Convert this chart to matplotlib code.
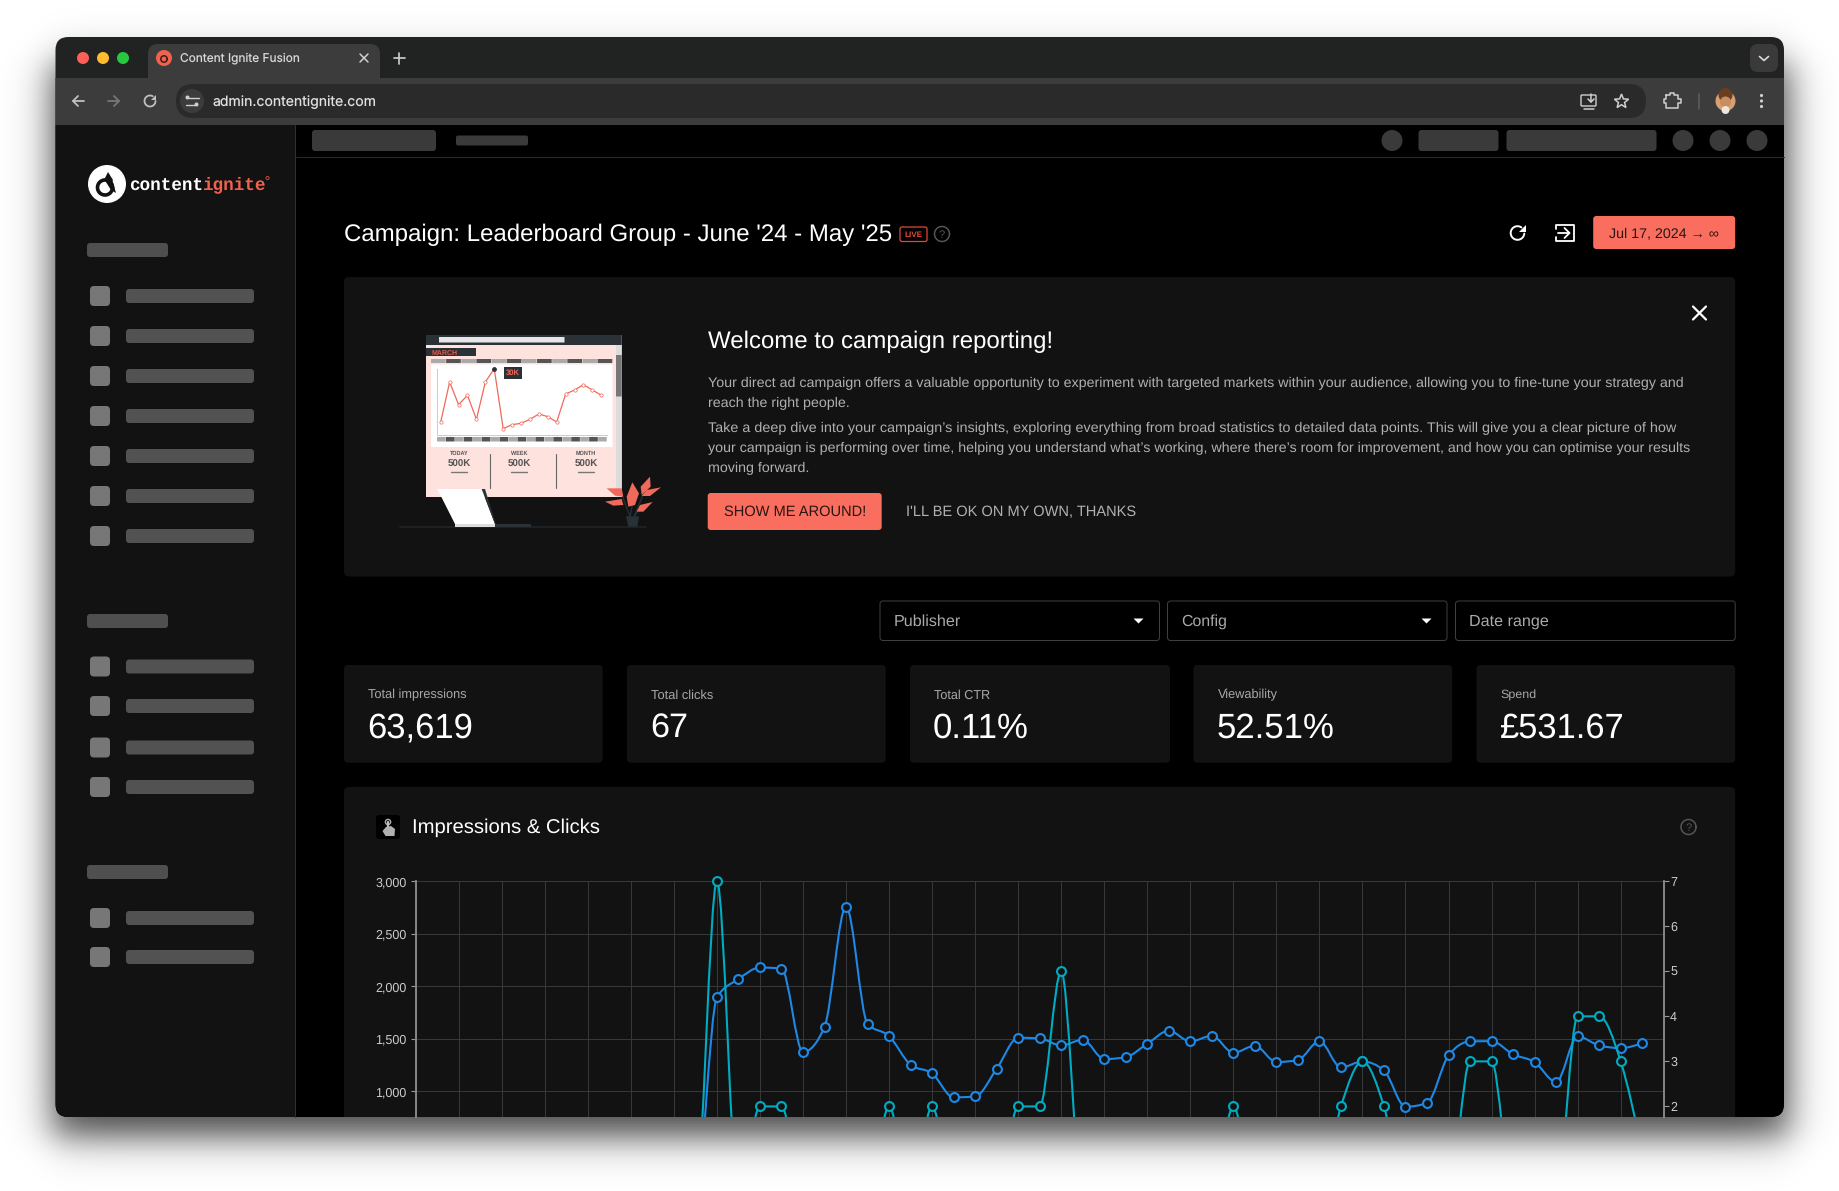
import numpy as np
import matplotlib
matplotlib.use('Agg')
import matplotlib.pyplot as plt
from matplotlib.patches import FancyBboxPatch, Circle, Polygon, Rectangle, PathPatch
from matplotlib.path import Path

plt.rcParams['text.hinting'] = 'no_hinting'

W, H = 1840, 1191
FONT = ['Liberation Sans', 'DejaVu Sans']
CORAL = '#f96e5f'
CARD = '#121212'

## DATA ########################################################################
# daily series, nothing is visible before index 14 (window cuts the chart off)
impressions = [0] * 14 + [1894, 2068, 2179, 2169, 1374, 1615, 2759, 1643, 1526, 1253,
                          1171, 943, 952, 1215, 1510, 1504, 1437, 1491, 1307, 1326,
                          1453, 1577, 1475, 1529, 1367, 1434, 1279, 1298, 1478, 1228,
                          1285, 1199, 854, 889, 1342, 1475, 1478, 1352, 1279, 1089,
                          1523, 1437, 1412, 1459]
clicks = [0] * 14 + [7, 0, 2, 2, 0, 0, 0, 0, 2, 0,
                     2, 0, 0, 0, 2, 2, 5, 0, 0, 0,
                     0, 0, 0, 0, 2, 0, 0, 0, 0, 2,
                     3, 2, 0, 0, 0, 3, 3, 0, 0, 0,
                     4, 4, 3, 1]
left_ticks = [1000, 1500, 2000, 2500, 3000]
right_ticks = [2, 3, 4, 5, 6, 7]

kpi_labels = ['Total impressions', 'Total clicks', 'Total CTR', 'Viewability', 'Spend']
kpi_values = ['63,619', '67', '0.11%', '52.51%', '£531.67']

# the little chart inside the illustration (k)
mini_values = [6, 24, 13.8, 18, 7.2, 24, 30, 3, 4.8, 5.4, 7.2, 9.6, 8.4, 6, 18.6, 20.4, 22.8, 20.4, 18]

welcome_lines = [
    ('Your direct ad campaign offers a valuable opportunity to experiment with targeted markets within your audience, allowing you to fine-tune your strategy and', 382, 979.5),
    ('reach the right people.', 402, 142),
    ('Take a deep dive into your campaign\u2019s insights, exploring everything from broad statistics to detailed data points. This will give you a clear picture of how', 427, 965.5),
    ('your campaign is performing over time, helping you understand what\u2019s working, where there\u2019s room for improvement, and how you can optimise your results', 447, 985.5),
    ('moving forward.', 467, 101),
]

## HELPERS #####################################################################
fig = plt.figure(figsize=(W / 100, H / 100), dpi=100, facecolor='white')
base = fig.add_axes([0, 0, 1, 1])
base.set_xlim(0, W)
base.set_ylim(H, 0)
base.axis('off')
renderer = fig.canvas.get_renderer()


def rrect(x0, y0, x1, y1, r=3, color='#3a3a3a', ec='none', lw=0, clip=None, z=2):
    p = FancyBboxPatch((x0 + r, y0 + r), x1 - x0 - 2 * r, y1 - y0 - 2 * r,
                       boxstyle=f'round,pad={r},rounding_size={r}',
                       fc=color, ec=ec, lw=lw, zorder=z)
    base.add_patch(p)
    if clip is not None:
        p.set_clip_path(clip)
    return p


def label(x, y, s, width=None, size=10, color='white', ha='left', weight='normal', family=FONT):
    t = base.text(x, y, s, fontsize=size, color=color, ha=ha, va='baseline',
                  weight=weight, family=family, zorder=6)
    if width:
        t.set_fontsize(size * width / t.get_window_extent(renderer).width)
    # y is the middle of the capitals, so all labels share a baseline rule
    t.set_y(y + 0.36 * t.get_fontsize() * 100 / 72)
    return t


def line(xs, ys, color='white', lw=1.2, z=5):
    base.plot(xs, ys, color=color, lw=lw, solid_capstyle='round', zorder=z)


def ring(cx, cy, r, a0=0, a1=360, color='white', lw=1.2):
    a = np.radians(np.linspace(a0, a1, 60))
    line(cx + r * np.cos(a), cy + r * np.sin(a), color, lw)


def poly(pts, color, z=4):
    base.add_patch(Polygon(pts, closed=True, fc=color, ec='none', zorder=z))


def dot(cx, cy, r, color, z=4):
    base.add_patch(Circle((cx, cy), r, fc=color, ec='none', zorder=z))


def help_icon(cx, cy):
    ring(cx, cy, 7.5, color='#555555', lw=1.1)
    label(cx, cy, '?', size=8, color='#555555', ha='center')


def monotone_path(x, y):
    # monotone cubic through the points, same curve the web chart library uses
    x = np.asarray(x, float)
    y = np.asarray(y, float)
    h = np.diff(x)
    s = np.diff(y) / h
    m = np.zeros(len(x))
    p = (s[:-1] * h[1:] + s[1:] * h[:-1]) / (h[:-1] + h[1:])
    m[1:-1] = (np.sign(s[:-1]) + np.sign(s[1:])) * np.minimum(np.minimum(np.abs(s[:-1]), np.abs(s[1:])), 0.5 * np.abs(p))
    m[0] = (3 * s[0] - m[1]) / 2
    m[-1] = (3 * s[-1] - m[-2]) / 2
    verts = [(x[0], y[0])]
    codes = [Path.MOVETO]
    for i in range(len(h)):
        verts += [(x[i] + h[i] / 3, y[i] + m[i] * h[i] / 3),
                  (x[i + 1] - h[i] / 3, y[i + 1] - m[i + 1] * h[i] / 3),
                  (x[i + 1], y[i + 1])]
        codes += [Path.CURVE4] * 3
    return Path(verts, codes)


def px_axes(x0, y0, x1, y1, **kw):
    return fig.add_axes([x0 / W, 1 - y1 / H, (x1 - x0) / W, (y1 - y0) / H], **kw)


## PAGE + WINDOW ###############################################################
xx, yy = np.meshgrid(np.arange(W), np.arange(H))
step = lambda v: 1 / (1 + np.exp(-v / 11.0))
shadow = 0.72 * step(xx - 52) * step(1788 - xx) * step(yy - 62) * step(1136 - yy)
base.imshow(shadow, extent=(0, W, H, 0), cmap='gray_r', vmin=0, vmax=1, zorder=0, aspect='auto')
base.set_xlim(0, W)
base.set_ylim(H, 0)

window = rrect(55.5, 37, 1784, 1117, r=13, color='#212322', z=1)
rrect(55.5, 78, 1784, 125, r=0, color='#3c3c3c', clip=window)
rrect(55.5, 125, 1784, 1117, r=0, color='black', clip=window)
rrect(55.5, 125, 295, 1117, r=0, color=CARD, clip=window)
line([295.5, 295.5], [125, 1117], '#303030', 0.72, z=3)
line([296, 1784], [156.5, 156.5], '#2a2a2a', 0.72, z=3)

# tab strip
for cx, c in zip([83, 103, 123], ['#ff5f57', '#febc2e', '#28c840']):
    dot(cx, 58, 6, c)
rrect(148, 44, 380, 90, r=10, color='#3c3c3c')
rrect(55.5, 78, 1784, 125, r=0, color='#3c3c3c', clip=window)
dot(164, 58, 8, '#f0614e')
ring(164, 59, 3.2, color='#3c1d18', lw=1.1)
label(180, 57.5, 'Content Ignite Fusion', width=120, color='#d8d8d8', family=['Inter', 'DejaVu Sans'])
line([360, 368], [54, 62], '#d0d0d0', 1.1)
line([360, 368], [62, 54], '#d0d0d0', 1.1)
line([394, 405], [58, 58], '#d0d0d0', 1.2)
line([399.5, 399.5], [52.5, 63.5], '#d0d0d0', 1.2)
rrect(1750, 44, 1778, 72, r=8, color='#3a3a3a')
line([1759.5, 1764, 1768.5], [56.5, 60.5, 56.5], '#d8d8d8', 1.2)

# toolbar
rrect(176, 84, 1646, 118, r=17, color='#2a2a2a', z=3)
line([73, 84], [101, 101], '#c0c0c0', 1.3)
line([78, 73, 78], [96, 101, 106], '#c0c0c0', 1.3)
line([108, 119], [101, 101], '#777777', 1.3)
line([114, 119, 114], [96, 101, 106], '#777777', 1.3)
ring(150, 101, 5.5, 0, 300, '#c0c0c0', 1.3)
poly([(156.5, 94.5), (156.5, 100), (151, 100)], '#c0c0c0', z=5)
dot(192, 101, 12, '#3c3c3c')
line([189, 199], [97.5, 97.5], '#d0d0d0', 1)
line([186, 195], [104.5, 104.5], '#d0d0d0', 1)
dot(187.5, 97.5, 2, '#d0d0d0', z=5)
dot(196.5, 104.5, 2, '#d0d0d0', z=5)
label(213, 100.5, 'admin.contentignite.com', width=164, color='#e0e0e0', family=['Inter', 'DejaVu Sans'])
rrect(1581, 95, 1596, 106, r=1, color='none', ec='#d0d0d0', lw=1, z=5)
line([1584, 1594], [109, 109], '#d0d0d0', 1.1)
line([1591, 1591], [94, 102], '#d0d0d0', 1.1)
line([1588, 1591, 1594], [99, 102, 99], '#d0d0d0', 1.1)
ang = np.radians(np.arange(0, 360, 36) - 90)
rad = np.where(np.arange(10) % 2 == 0, 7.5, 3.2)
base.add_patch(Polygon(np.c_[1621.5 + rad * np.cos(ang), 101.5 + rad * np.sin(ang)], fc='none', ec='#d0d0d0', lw=1.1, zorder=5))
# extension puzzle piece
line([1666, 1670, 1670, 1674, 1674, 1678, 1678, 1681, 1681, 1678, 1678, 1666, 1666, 1664, 1664, 1666, 1666],
     [95, 95, 92.5, 92.5, 95, 95, 99, 99, 103, 103, 108, 108, 103, 103, 99, 99, 95], '#d0d0d0', 1.1)
line([1699, 1699], [94, 109], '#5c5c5c', 1.2)
dot(1725.5, 101, 10, '#d8a070')
dot(1725.5, 95, 7, '#6b3d20', z=5)
dot(1725.5, 102, 5.5, '#c98d62', z=5)
dot(1725.5, 110, 4, '#f0e6da', z=5)
for yy_dot in [95.5, 101, 106.5]:
    dot(1761.5, yy_dot, 1.6, '#d0d0d0')

# top bar skeleton
SK = '#3a3a3a'
rrect(312, 130, 436, 151, r=3, color=SK)
rrect(456, 135.5, 528, 145.5, r=2, color=SK)
dot(1392, 140.5, 10.5, SK)
rrect(1418.5, 130, 1498.5, 151, r=3, color=SK)
rrect(1506.5, 130, 1656.5, 151, r=3, color=SK)
for cx in [1683, 1720, 1757]:
    dot(cx, 140.5, 10.5, SK)

# sidebar
dot(107, 184, 19, 'white')
ring(105, 187.5, 7.5, color='#121212', lw=2.6)
poly([(108, 172), (113, 180), (109.5, 184), (104, 180)], '#121212')
poly([(104, 179), (112, 179), (116, 193), (111, 190)], '#121212')
label(129, 184, 'content', size=12.7, weight='bold', family=['Liberation Mono', 'DejaVu Sans Mono'])
label(203, 183, 'ignite', size=12.7, weight='bold', color='#f0614e', family=['Liberation Mono', 'DejaVu Sans Mono'])
ring(267.5, 178, 1.6, color='#f0614e', lw=0.5)

for y_head, rows in [(250, [296, 336, 376, 416, 456, 496, 536]),
                     (621, [666.5, 706, 747.5, 787]),
                     (872, [918, 957])]:
    rrect(87, y_head - 7, 168, y_head + 7, r=3, color='#4f4f4f')
    for y in rows:
        rrect(90, y - 10, 110, y + 10, r=4, color='#777777')
        rrect(126, y - 7, 254, y + 7, r=3.5, color='#525252')

## HEADER ######################################################################
label(344.5, 232.5, "Campaign: Leaderboard Group - June '24 - May '25", width=550, size=17)
rrect(900, 227, 927, 241.5, r=2, color='none', ec='#e0483c', lw=0.9, z=5)
label(913.5, 234.3, 'LIVE', width=18, size=7, color='#e0483c', ha='center', weight='bold')
help_icon(942, 234)
ring(1517.5, 233, 6.8, 5, 305, 'white', 1.4)
poly([(1526.2, 225), (1526.2, 232), (1519.2, 232)], 'white', z=5)
line([1556.5, 1556.5, 1574, 1574, 1556.5, 1556.5], [229, 225, 225, 241, 241, 237], 'white', 1.3)
line([1558, 1569], [233, 233], 'white', 1.3)
line([1564.5, 1569.5, 1564.5], [228, 233, 238], 'white', 1.3)
rrect(1593.2, 216, 1735.2, 249, r=3, color=CORAL)
label(1664.2, 232, 'Jul 17, 2024 \u2192 \u221e', width=110, color='#2a1512', ha='center')

## WELCOME PANEL ###############################################################
rrect(344, 277, 1735.2, 576.5, r=5, color=CARD)
line([1693, 1706], [306.5, 319.5], 'white', 1.6)
line([1693, 1706], [319.5, 306.5], 'white', 1.6)
label(708, 339.5, 'Welcome to campaign reporting!', width=346, size=18)
for txt, y, w in welcome_lines:
    label(708, y, txt, width=w, size=10, color='#b0b0b0')
rrect(707.7, 493, 881.7, 530, r=3, color=CORAL)
label(795, 511, 'SHOW ME AROUND!', width=142, color='#2a1512', ha='center')
label(906, 511, "I'LL BE OK ON MY OWN, THANKS", width=230, color='#b0b0b0')

# illustration
z = lambda *p: [(380 + a / 3, 310 + b / 3) for a, b in p]
rrect(426, 335, 621.7, 497, r=0, color='#fde2de')
rrect(426, 335, 621.7, 345, r=0, color='#2a3238')
rrect(439, 337, 564.5, 342.5, r=0, color='#e6e6e6')
rrect(616, 345, 621.7, 497, r=0, color='#dcdcdc', z=3)
rrect(616, 355, 621.7, 396.5, r=0, color='#777777', z=4)
rrect(426, 348, 476, 356, r=0, color='#2a3238', z=3)
label(432, 352, 'MARCH', size=5, color='#e8584a', weight='bold')
rrect(431, 364.5, 612.5, 447, r=0, color='white', z=3)
for i in range(12):
    rrect(431 + i * 15.15, 359, 431 + (i + 1) * 15.15 - 0.5, 363, r=0, color='#aaaaaa' if i % 2 == 0 else '#555555', z=3)
for i in range(19):
    rrect(437 + i * 8.95, 437, 437 + (i + 1) * 8.95 - 0.3, 441.5, r=0, color='#aaaaaa' if i % 2 == 0 else '#555555', z=4)
for cx, word in [(459, 'TODAY'), (519.5, 'WEEK'), (586, 'MONTH')]:
    label(cx, 453, word, size=4, color='#555555', ha='center', weight='bold')
    label(cx, 463.5, '500K', size=7, color='#555555', ha='center', weight='bold')
    line([cx - 8, cx + 8], [472, 472], '#777777', 1)
line([490.5, 490.5], [454, 488], '#666666', 0.8)
line([556.5, 556.5], [454, 488], '#666666', 0.8)
poly(z((172, 537), (305, 537), (345, 642), (225, 642)), 'white', z=5)
poly(z((305, 537), (315, 537), (350, 650), (345, 650), (345, 642)), '#2a3238', z=5)
poly(z((225, 642), (345, 642), (345, 651), (225, 651)), '#dddddd', z=5)
poly(z((345, 642), (453, 642), (453, 651), (345, 651)), '#2a3238', z=5)
line([400.5, 646.5], [527, 527], '#1f2326', 1.2, z=3)
poly(z((738, 619), (777, 619), (772, 650), (745, 650)), '#263238', z=5)
for (x0, y0), (x1, y1) in [(z((750, 620))[0], z((728, 560))[0]), (z((750, 620))[0], z((760, 570))[0]),
                           (z((762, 620))[0], z((795, 540))[0]), (z((762, 620))[0], z((785, 590))[0])]:
    line([x0, x1], [y0, y1], '#263238', 0.9, z=4)
for leaf in [((680, 535), (725, 535), (730, 560), (705, 557)),
             ((675, 575), (725, 567), (730, 585), (700, 587)),
             ((757, 517), (777, 550), (765, 585), (745, 590), (740, 560)),
             ((810, 500), (812, 530), (785, 555), (782, 530)),
             ((843, 532), (810, 558), (785, 558), (800, 540)),
             ((818, 576), (790, 605), (770, 605), (780, 585))]:
    poly(z(*leaf), '#f0695a', z=5)

## FILTERS + KPI ###############################################################
for x0, x1, txt, w, caret, ty in [(880, 1159.5, 'Publisher', 67, 1138.5, 620.5),
                                  (1167.5, 1447, 'Config', 46, 1426.5, 619.8),
                                  (1455.5, 1735.2, 'Date range', 80, None, 619.8)]:
    rrect(x0, 601, x1, 640.5, r=3, color='black', ec='#3f3f3f', lw=0.72)
    label(x0 + 13.5, ty, txt, width=w, color='#aaaaaa')
    if caret:
        poly([(caret - 5, 618.5), (caret + 5, 618.5), (caret, 623.5)], 'white', z=5)

kpi_x = [(344, 602.7), (627, 885.7), (910, 1170), (1193.5, 1452.2), (1476.5, 1735.2)]
kpi_lw = [99, 62, 56, 60, 36]
kpi_vw = [106, 38, 96, 118, 125]
for (x0, x1), lab, val, lw_, vw in zip(kpi_x, kpi_labels, kpi_values, kpi_lw, kpi_vw):
    rrect(x0, 665, x1, 762.7, r=4, color=CARD)
    label(x0 + 24, 694, lab, width=lw_, color='#a8a8a8')
    label(x0 + 23, 725, val, width=vw, size=24)

## CHART CARD ##################################################################
rrect(344, 787, 1735.2, 1140, r=5, color=CARD, clip=Rectangle((0, 0), W, 1117, transform=base.transData))
rrect(376, 815, 400, 839, r=3, color='black')
ring(388, 822, 2.6, color='#b0b0b0', lw=1)
line([388, 388], [822, 829], '#c0c0c0', 1.6)
poly([(386, 827), (391, 826), (395, 829), (394.5, 836), (385.5, 836), (382.5, 831)], '#b0b0b0', z=5)
label(412.5, 826, 'Impressions & Clicks', width=188.5, size=15)
help_icon(1688.5, 827)

top_px, bottom_px, zero_px = 881.2, 1117, 1196.5
ax = px_axes(415.7, top_px, 1663.7, bottom_px, facecolor=CARD)
ax2 = ax.twinx()
ax2.patch.set_visible(False)
x = np.arange(len(impressions))
ax.set_xlim(0, 58)
ax.set_ylim(3000 * (zero_px - bottom_px) / (zero_px - top_px), 3000)
ax2.set_ylim(7 * (zero_px - bottom_px) / (zero_px - top_px), 7)
ax.set_xticks(np.arange(0, 59, 2))
ax.set_yticks(left_ticks)
ax.set_yticklabels([f'{v:,}' for v in left_ticks], family=FONT)
ax2.set_yticks(right_ticks)
ax2.set_yticklabels([str(v) for v in right_ticks], family=FONT)
ax.grid(True, color='#383838', lw=0.75)
ax.set_axisbelow(True)
ax.tick_params(axis='x', length=0, labelbottom=False)
ax.tick_params(axis='y', length=3.6, width=0.8, color='#9a9a9a', labelcolor='#cccccc', labelsize=9, pad=3)
ax2.tick_params(axis='y', length=3.6, width=0.8, color='#9a9a9a', labelcolor='#cccccc', labelsize=9, pad=1)
for a in (ax, ax2):
    for side in ('top', 'bottom'):
        a.spines[side].set_visible(False)
    for side in ('left', 'right'):
        a.spines[side].set_color('#8a8a8a')
        a.spines[side].set_linewidth(1.1)

# markers must stick out above the top of the plot but stop at the window edge
for a, vals, col in [(ax, impressions, '#1e88e5'), (ax2, clicks, '#00acc1')]:
    curve = a.add_patch(PathPatch(monotone_path(x, vals), fc='none', ec=col, lw=1.5, zorder=3))
    pts, = a.plot(x, vals, ls='none', marker='o', ms=6.4, mfc=CARD, mec=col, mew=1.5, zorder=4)
    for art in (curve, pts):
        art.set_clip_path(Rectangle((0, 0), W, 1117, transform=base.transData))

## MINI CHART IN THE ILLUSTRATION ##############################################
mini = px_axes(436.7, 368.7, 606.7, 435.3, facecolor='none')
mini.set_xlim(-0.45, 18.6)
mini.set_ylim(0, 30)
mini.plot(range(len(mini_values)), mini_values, color='#f0695a', lw=0.9, marker='o', ms=2.4, mfc='white', mec='#f0695a', mew=0.5, clip_on=False)
mini.plot([6], [30], marker='o', ms=2.4, color='#263238', clip_on=False)
mini.text(7.3, 28, '30K', fontsize=5.5, color='#f0695a', weight='bold', family=FONT, va='center',
          bbox=dict(fc='#2a3238', ec='none', pad=1.5))
mini.set_xticks(range(0, 19))
mini.set_yticks([6, 12, 18, 24, 30])
mini.tick_params(length=1, width=0.4, color='#cccccc', labelbottom=False, labelleft=False)
for side in ('top', 'right'):
    mini.spines[side].set_visible(False)
for side in ('left', 'bottom'):
    mini.spines[side].set_color('#cccccc')
    mini.spines[side].set_linewidth(0.7)

fig.savefig('out.png', dpi=100, facecolor='white')
